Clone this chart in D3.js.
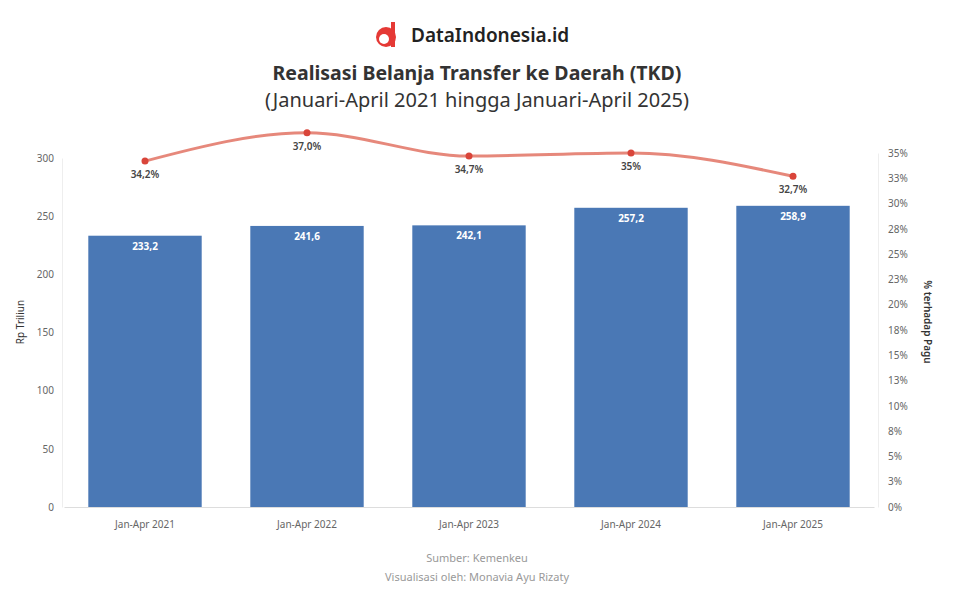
<!DOCTYPE html><html><head><meta charset="utf-8"><script src="https://cdn.jsdelivr.net/npm/d3@7"></script>
<style>body{margin:0;background:#fff;font-family:"Source Sans Pro","Noto Sans",sans-serif}</style></head><body><svg id="c" width="954" height="596"></svg>
<script>
const categories=["Jan-Apr 2021","Jan-Apr 2022","Jan-Apr 2023","Jan-Apr 2024","Jan-Apr 2025"];
const tkd=[233.2,241.6,242.1,257.2,258.9];
const pct=[34.2,37.0,34.7,35.0,32.7];
const pctLabels=["34,2%","37,0%","34,7%","35%","32,7%"];
const leftTicks=[0,50,100,150,200,250,300];
const rightTicks=[0,2.5,5,7.5,10,12.5,15,17.5,20,22.5,25,27.5,30,32.5,35];
const svg=d3.select("#c");
const x=d3.scaleBand().domain(categories).range([64,874]).paddingInner(0.3).paddingOuter(0.15);
const y=d3.scaleLinear().domain([0,300]).range([507,158]);
const y2=d3.scaleLinear().domain([0,35]).range([507,153]);
const F="'Source Sans Pro','Noto Sans',sans-serif";
const g0=svg.append("g");
g0.append("circle").attr("cx",386).attr("cy",37).attr("r",10).attr("fill","#e53935");
g0.append("circle").attr("cx",384).attr("cy",39).attr("r",5).attr("fill","#fff");
g0.append("rect").attr("x",391).attr("y",22).attr("width",4).attr("height",25).attr("fill","#e53935");
svg.append("text").attr("x",411).attr("y",42).attr("font-size",19).attr("font-weight",600).attr("fill","#222").attr("font-family",F).text("DataIndonesia.id");
svg.append("text").attr("x",477).attr("y",80).attr("text-anchor","middle").attr("font-size",19.5).attr("font-weight",700).attr("fill","#333").attr("font-family",F).text("Realisasi Belanja Transfer ke Daerah (TKD)");
svg.append("text").attr("x",477).attr("y",107).attr("text-anchor","middle").attr("font-size",20).attr("fill","#333").attr("font-family",F).text("(Januari-April 2021 hingga Januari-April 2025)");
const ax=svg.append("g").attr("transform","translate(62,0)").call(d3.axisLeft(y).tickValues(leftTicks).tickSize(0).tickPadding(8));
ax.select(".domain").attr("stroke","#eee");
const ax2=svg.append("g").attr("transform","translate(878,0)").call(d3.axisRight(y2).tickValues(rightTicks).tickSize(0).tickPadding(10).tickFormat(d=>Math.round(d)+"%"));
ax2.select(".domain").attr("stroke","#eee");
const axb=svg.append("g").attr("transform","translate(0,507)").call(d3.axisBottom(x).tickSize(0).tickPadding(14));
axb.select(".domain").attr("stroke","#ddd");
svg.selectAll(".tick text").attr("font-size",10).attr("fill","#666").attr("font-family",F);
svg.append("text").attr("transform","translate(24,322) rotate(-90)").attr("text-anchor","middle").attr("font-size",10).attr("fill","#333").attr("font-family",F).text("Rp Triliun");
svg.append("text").attr("transform","translate(924,322) rotate(90)").attr("text-anchor","middle").attr("font-size",10).attr("font-weight",600).attr("fill","#333").attr("font-family",F).text("% terhadap Pagu");
svg.selectAll(".bar").data(tkd).join("rect").attr("x",(d,i)=>x(categories[i])).attr("y",d=>y(d)).attr("width",x.bandwidth()).attr("height",d=>507-y(d)).attr("fill","#4a78b5");
svg.selectAll(".bl").data(tkd).join("text").attr("x",(d,i)=>x(categories[i])+x.bandwidth()/2).attr("y",d=>y(d)+14).attr("text-anchor","middle").attr("font-size",10).attr("font-weight",700).attr("fill","#fff").attr("font-family",F).text(d=>d.toFixed(1).replace(".",","));
const cx=(i)=>x(categories[i])+x.bandwidth()/2;
svg.append("path").datum(pct).attr("d",d3.line().x((d,i)=>cx(i)).y(d=>y2(d)).curve(d3.curveMonotoneX)).attr("fill","none").attr("stroke","#e06a5a").attr("stroke-width",3).attr("opacity",0.8);
svg.selectAll(".pt").data(pct).join("circle").attr("cx",(d,i)=>cx(i)).attr("cy",d=>y2(d)).attr("r",3.5).attr("fill","#d9453a");
svg.selectAll(".pl").data(pct).join("text").attr("x",(d,i)=>cx(i)).attr("y",d=>y2(d)+17).attr("text-anchor","middle").attr("font-size",10).attr("font-weight",600).attr("fill","#444").attr("font-family",F).text((d,i)=>pctLabels[i]);
svg.append("text").attr("x",477).attr("y",562).attr("text-anchor","middle").attr("font-size",11).attr("fill","#999").attr("font-family",F).text("Sumber: Kemenkeu");
svg.append("text").attr("x",477).attr("y",581).attr("text-anchor","middle").attr("font-size",11).attr("fill","#999").attr("font-family",F).text("Visualisasi oleh: Monavia Ayu Rizaty");
</script></body></html>
